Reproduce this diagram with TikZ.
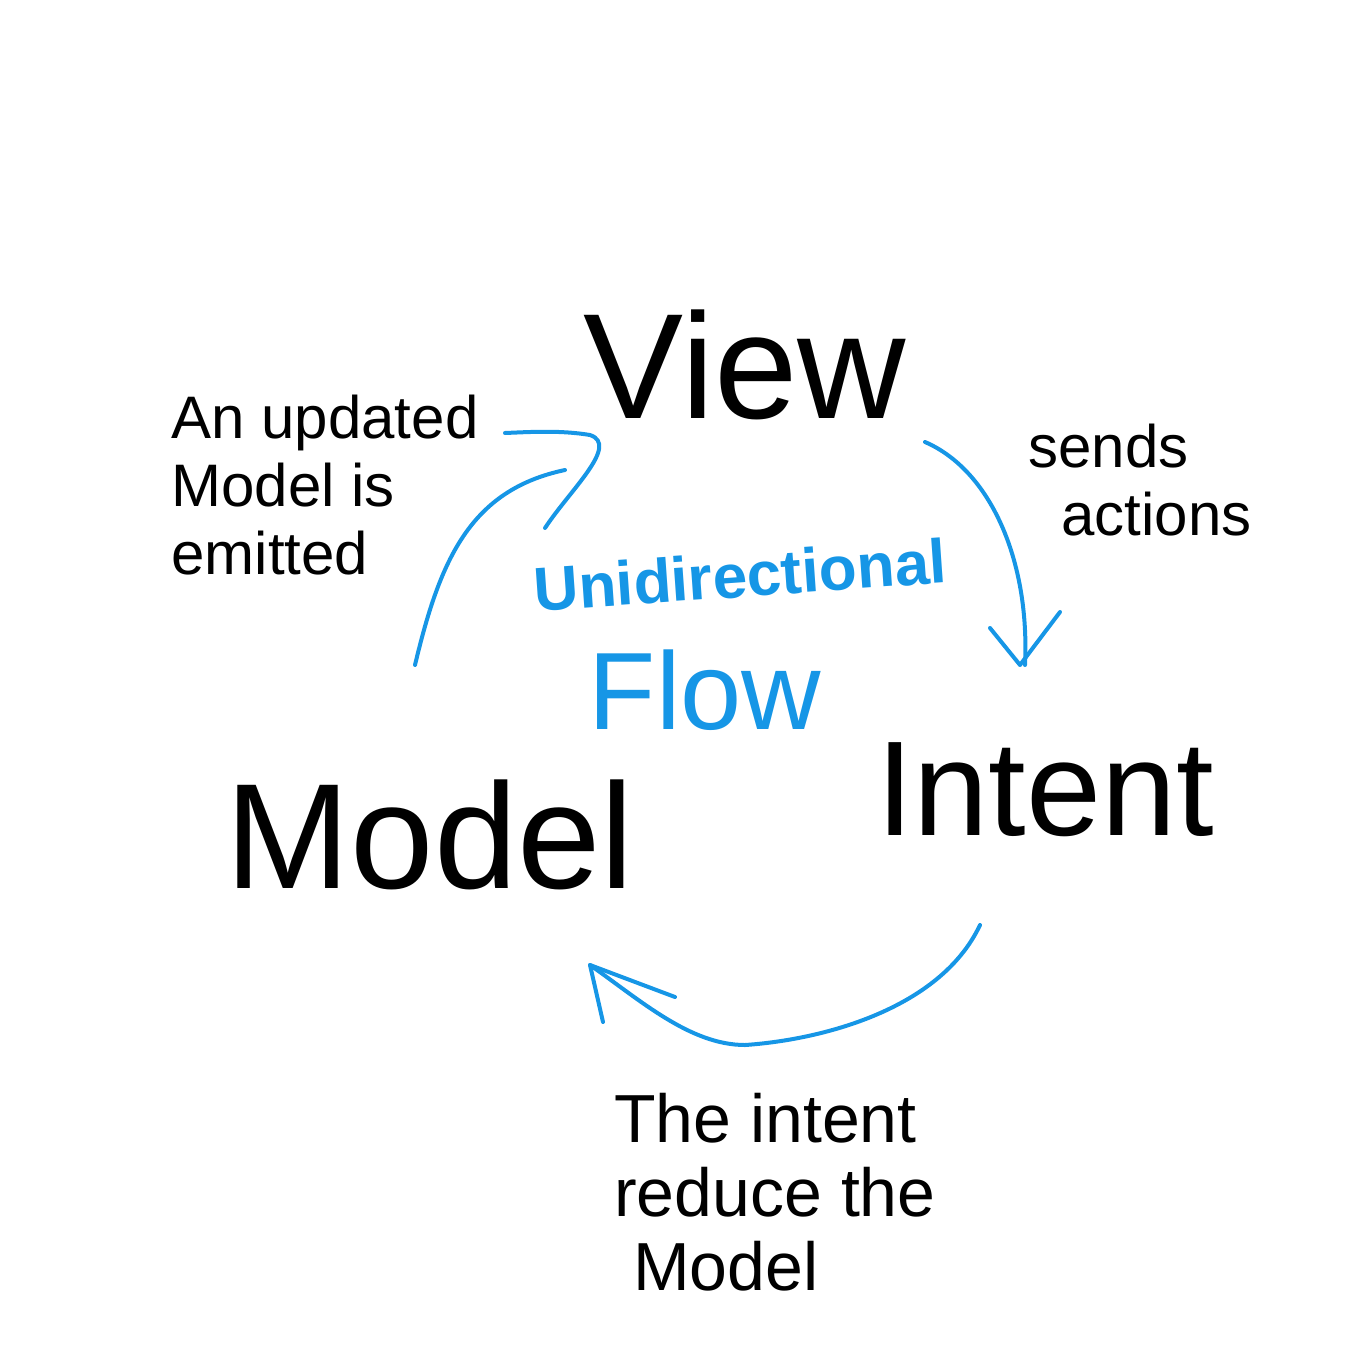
\documentclass[tikz,border=0pt]{standalone}
\usepackage{fontspec}
\setmainfont{Liberation Sans}
\definecolor{flowblue}{RGB}{22,150,230}
\tikzset{
  big/.style={font=\fontsize{150}{150}\selectfont, inner sep=0pt},
  lab/.style={font=\fontsize{60}{68}\selectfont, align=left, inner sep=0pt},
  flow/.style={draw=flowblue, line width=4pt, line cap=round, line join=round},
}
\begin{document}
\begin{tikzpicture}[x=1pt,y=-1pt]
\useasboundingbox (0,0) rectangle (1358,1358);
\node[big] (view) at (745,365) {View};
\node[big] (model) at (430,835) {Model};
\node[big, font=\fontsize{135}{135}\selectfont] (intent) at (1045,790) {Intent};
\node[lab] (upd) at (325,485) {An updated\\Model is\\emitted};
\node[lab] (sends) at (1140,480) {sends\\\ \ actions};
\node[lab, font=\fontsize{68}{74}\selectfont] (red) at (775,1192) {The intent\\reduce the\\\ Model};
\node[text=flowblue, font=\bfseries\fontsize{62}{62}\selectfont, inner sep=0pt, rotate=4] (uni) at (740,575) {Unidirectional};
\node[text=flowblue, font=\fontsize{110}{110}\selectfont, inner sep=0pt] (fl) at (705,690) {Flow};
% right arrow
\coordinate (r0) at (925,442); \coordinate (r1) at (1025,665);
\draw[flow] (r0) .. controls (990,470) and (1030,560) .. (r1);
\draw[flow] (990,628) -- (1020,665) -- (1060,612);
% bottom arrow
\coordinate (b0) at (980,925); \coordinate (b1) at (590,965);
\draw[flow] (b0) .. controls (940,1010) and (820,1040) .. (745,1045) .. controls (690,1045) and (640,1000) .. (b1);
\draw[flow] (603,1022) -- (b1) -- (675,997);
% left arrow
\coordinate (l0) at (415,665); \coordinate (l1) at (565,470);
\draw[flow] (l0) .. controls (440,560) and (470,490) .. (l1);
\draw[flow] (545,528) .. controls (570,490) and (620,445) .. (590,435) .. controls (560,430) and (530,432) .. (505,433);
\end{tikzpicture}
\end{document}
